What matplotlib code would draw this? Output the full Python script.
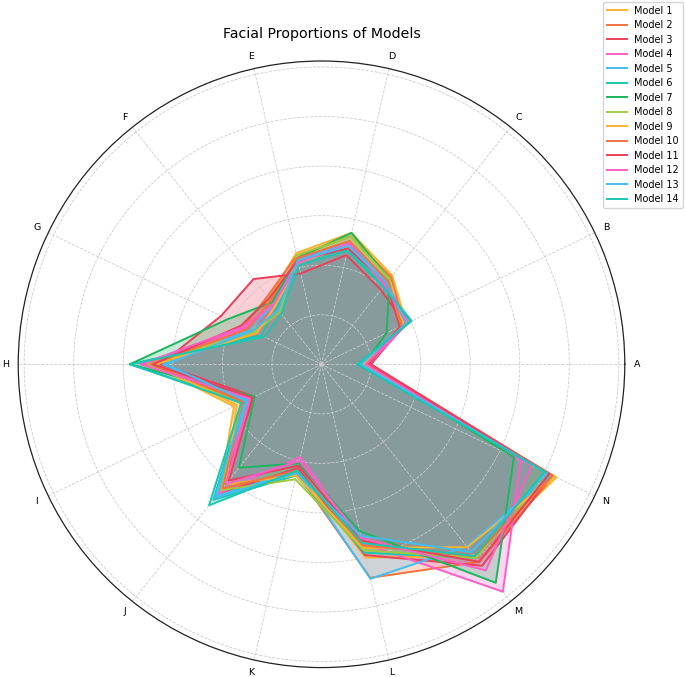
import numpy as np
import matplotlib
matplotlib.use("Agg")
import matplotlib.pyplot as plt

categories = list("ABCDEFGHIJKLMN")
models = [f"Model {i}" for i in range(1, 15)]

m1  = [0.85, 1.90, 2.29, 2.72, 2.30, 1.70, 1.55, 3.45, 1.96, 3.30, 2.20, 4.00, 4.95, 5.26]
m2  = [0.90, 1.85, 2.25, 2.65, 2.25, 1.75, 1.75, 3.55, 1.70, 3.25, 2.25, 4.42, 5.10, 5.20]
m3  = [1.00, 1.87, 1.92, 2.26, 1.88, 2.20, 2.25, 3.25, 1.50, 3.35, 2.15, 3.95, 5.20, 5.15]
m4  = [0.95, 1.95, 2.10, 2.55, 2.15, 1.50, 1.70, 3.60, 1.55, 3.35, 1.92, 3.70, 5.87, 4.47]
m5  = [0.80, 1.80, 2.15, 2.50, 2.20, 1.55, 1.60, 3.20, 1.65, 3.40, 2.20, 4.44, 4.70, 5.15]
m6  = [0.75, 2.00, 2.00, 2.40, 2.10, 1.45, 1.35, 3.87, 1.75, 3.50, 2.30, 3.90, 5.00, 5.10]
m7  = [0.85, 1.46, 2.20, 2.72, 2.20, 1.60, 2.10, 3.87, 1.50, 2.67, 2.05, 3.45, 5.64, 4.31]
m8  = [0.90, 1.75, 2.20, 2.65, 2.25, 1.35, 1.50, 3.50, 1.80, 3.25, 2.38, 3.85, 5.00, 5.10]
m9  = [0.85, 1.85, 2.10, 2.45, 2.10, 1.50, 1.45, 3.35, 1.90, 3.10, 2.30, 3.80, 4.72, 5.22]
m10 = [0.90, 1.80, 2.15, 2.55, 2.20, 1.65, 1.65, 3.45, 1.75, 3.20, 2.20, 3.75, 4.95, 5.18]
m11 = [0.95, 1.75, 2.10, 2.40, 2.15, 1.70, 1.80, 3.40, 1.55, 3.00, 2.10, 3.65, 5.10, 5.10]
m12 = [0.90, 1.90, 2.05, 2.50, 2.10, 1.55, 1.75, 3.65, 1.60, 3.10, 2.00, 3.60, 5.32, 4.71]
m13 = [0.80, 1.90, 2.10, 2.45, 2.15, 1.40, 1.55, 3.15, 1.70, 3.45, 2.25, 3.55, 4.85, 5.05]
m14 = [0.72, 2.02, 2.00, 2.35, 2.05, 1.30, 1.28, 3.85, 1.80, 3.64, 2.20, 3.70, 4.95, 5.00]
series = [m1, m2, m3, m4, m5, m6, m7, m8, m9, m10, m11, m12, m13, m14]

palette = ['#FDB22A', '#F47240', '#EC4059', '#FF5EC8',
           '#42BEF2', '#19C7B2', '#1BB75E', '#A0C93E']

fig = plt.figure(figsize=(6.85, 6.77), dpi=100)
ax = fig.add_axes([0.0266, 0.0139, 0.8855, 0.896], polar=True)

n = len(categories)
angles = np.linspace(0, 2 * np.pi, n, endpoint=False).tolist()
angles_c = angles + angles[:1]

for i, (name, vals) in enumerate(zip(models, series)):
    col = palette[i % len(palette)]
    v = vals + vals[:1]
    ax.plot(angles_c, v, color=col, linewidth=1.4, label=name)
    ax.fill(angles_c, v, color=col, alpha=0.25)

ax.set_xticks(angles)
ax.set_xticklabels(categories, fontsize=6.8)
ax.set_yticks([1, 2, 3, 4, 5, 6])
ax.set_yticklabels([])
ax.set_ylim(0, 6.12)
ax.grid(True, linestyle='--', color='#cccccc', linewidth=0.6)
ax.spines['polar'].set_linewidth(0.9)
ax.spines['polar'].set_color('#222222')
ax.tick_params(axis='x', pad=-1.5)

fig.text(321.5 / 685, 1 - 34 / 677, "Facial Proportions of Models",
         fontsize=10.2, ha='center', va='center')

fig.legend(loc='upper right', bbox_to_anchor=(683 / 685, 1 - 2 / 677),
           borderaxespad=0, fontsize=7.0, labelspacing=0.46, frameon=True)

fig.savefig("out.png", dpi=100)
